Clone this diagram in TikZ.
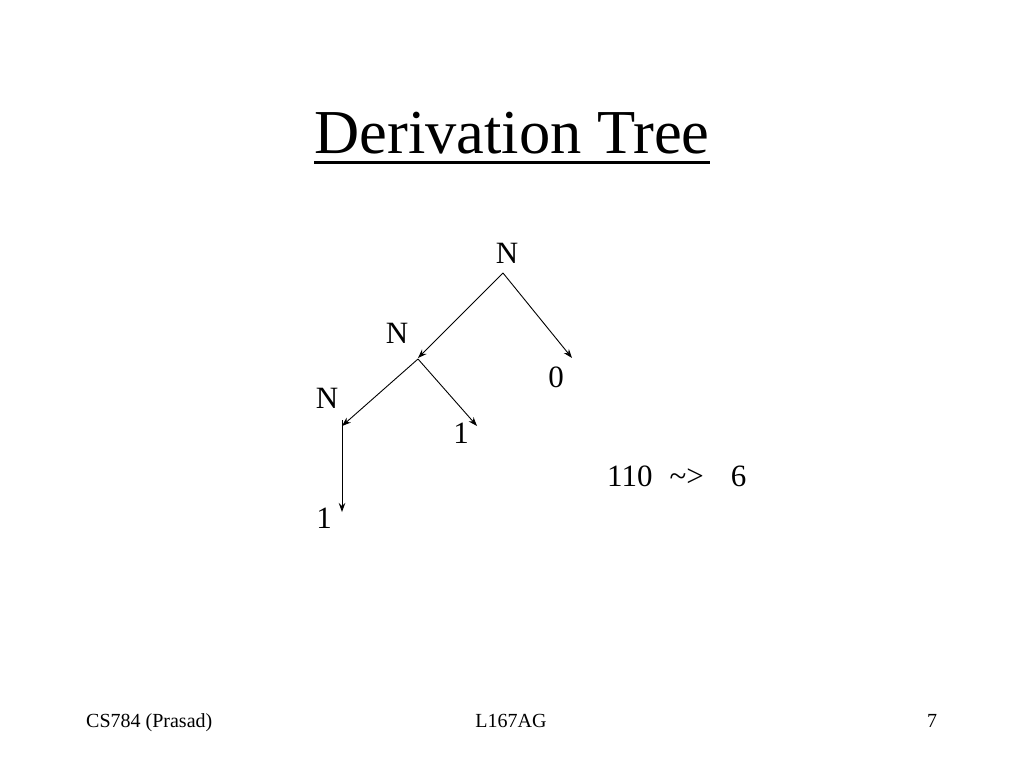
\documentclass[tikz,border=0pt]{standalone}
\usepackage{fontspec}
\setmainfont{Liberation Serif}
\usetikzlibrary{arrows.meta}
\begin{document}
\begin{tikzpicture}[x=1pt,y=-1pt,
  lbl/.style={inner sep=0pt,anchor=base,font=\fontsize{31}{36}\selectfont},
  foot/.style={inner sep=0pt,anchor=base,font=\fontsize{20}{24}\selectfont},
  edge/.style={line width=0.9pt,-{Stealth[length=9pt,width=6.5pt,inset=3pt]}}]
\useasboundingbox[fill=white] (0,0) rectangle (1024,768);
% title
\node[inner sep=0pt,anchor=base,font=\fontsize{62.5}{72}\selectfont] (title) at (512,153) {Derivation Tree};
\draw[line width=3pt] ([yshift=-9pt]title.base west) -- ([yshift=-9pt]title.base east);
% tree labels
\node[lbl] (n1) at (507,263) {N};
\node[lbl] (n2) at (397,343) {N};
\node[lbl] (n3) at (327,408) {N};
\node[lbl] (z0) at (556,387) {0};
\node[lbl] (o1) at (461,443) {1};
\node[lbl] (o2) at (324,528) {1};
\node[lbl,anchor=base west] (res) at (607,486) {110\hspace{17pt}\textasciitilde>\hspace{27pt}6};
% arrow endpoints
\coordinate (a1) at (503,273);
\coordinate (a2) at (418,358);
\coordinate (a3) at (572,358);
\coordinate (b1) at (418,359);
\coordinate (b2) at (342,426);
\coordinate (b3) at (477,426);
\coordinate (c1) at (342,420);
\coordinate (c2) at (342,512);
\draw[edge] (a1) -- (a2);
\draw[edge] (a1) -- (a3);
\draw[edge] (b1) -- (b2);
\draw[edge] (b1) -- (b3);
\draw[edge] (c1) -- (c2);
% footer
\node[foot,anchor=base west] (f1) at (86,727) {CS784 (Prasad)};
\node[foot] (f2) at (511,727) {L167AG};
\node[foot] (f3) at (932,727) {7};
\end{tikzpicture}
\end{document}
